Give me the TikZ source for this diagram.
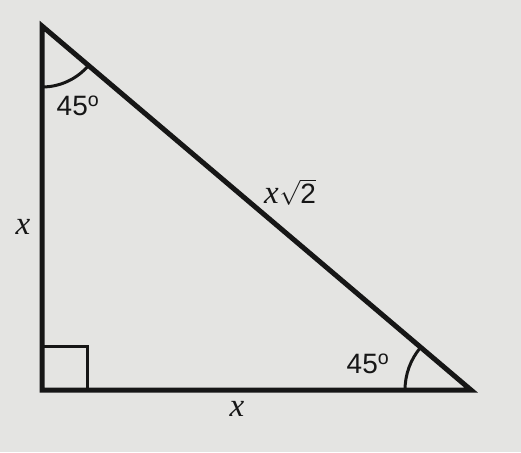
\documentclass[tikz,border=0pt]{standalone}
\usepackage{fontspec}
\setmainfont{Liberation Sans}
\newfontfamily\varfont{Liberation Serif}
\definecolor{bgc}{RGB}{228,228,226}
\definecolor{ink}{RGB}{22,22,22}
\newcommand{\vx}{{\varfont\itshape\fontsize{33}{36}\selectfont x}}
\begin{document}
\begin{tikzpicture}[x=1pt,y=-1pt,
  side/.style={line width=5pt,draw=ink,line join=miter},
  anglemark/.style={line width=3pt,draw=ink},
  lbl/.style={font=\fontsize{28}{30}\selectfont,text=ink,inner sep=0pt}]
\fill[bgc] (0,0) rectangle (521,452);
\useasboundingbox (0,0) rectangle (521,452);
\coordinate (A) at (42,26);
\coordinate (B) at (42,390);
\coordinate (C) at (471,390);
\draw[side] (A) -- (B) -- (C) -- cycle;
\draw[anglemark] (42,346) -- (87,346) -- (87,390);
\draw[anglemark] (A) ++(0,61) arc[start angle=90,end angle=40.25,radius=61];
\draw[anglemark] (C) ++(-66,0) arc[start angle=180,end angle=220.25,radius=66];
\node[lbl] (t1) at (78,106) {45\textsuperscript{o}};
\node[lbl] (t2) at (368,364) {45\textsuperscript{o}};
\node[lbl] (hyp) at (290,192) {\vx\kern1pt$\sqrt{\mbox{2}}$};
\node[lbl] (lx) at (23,227) {\vx};
\node[lbl] (bx) at (237,409) {\vx};
\end{tikzpicture}
\end{document}
